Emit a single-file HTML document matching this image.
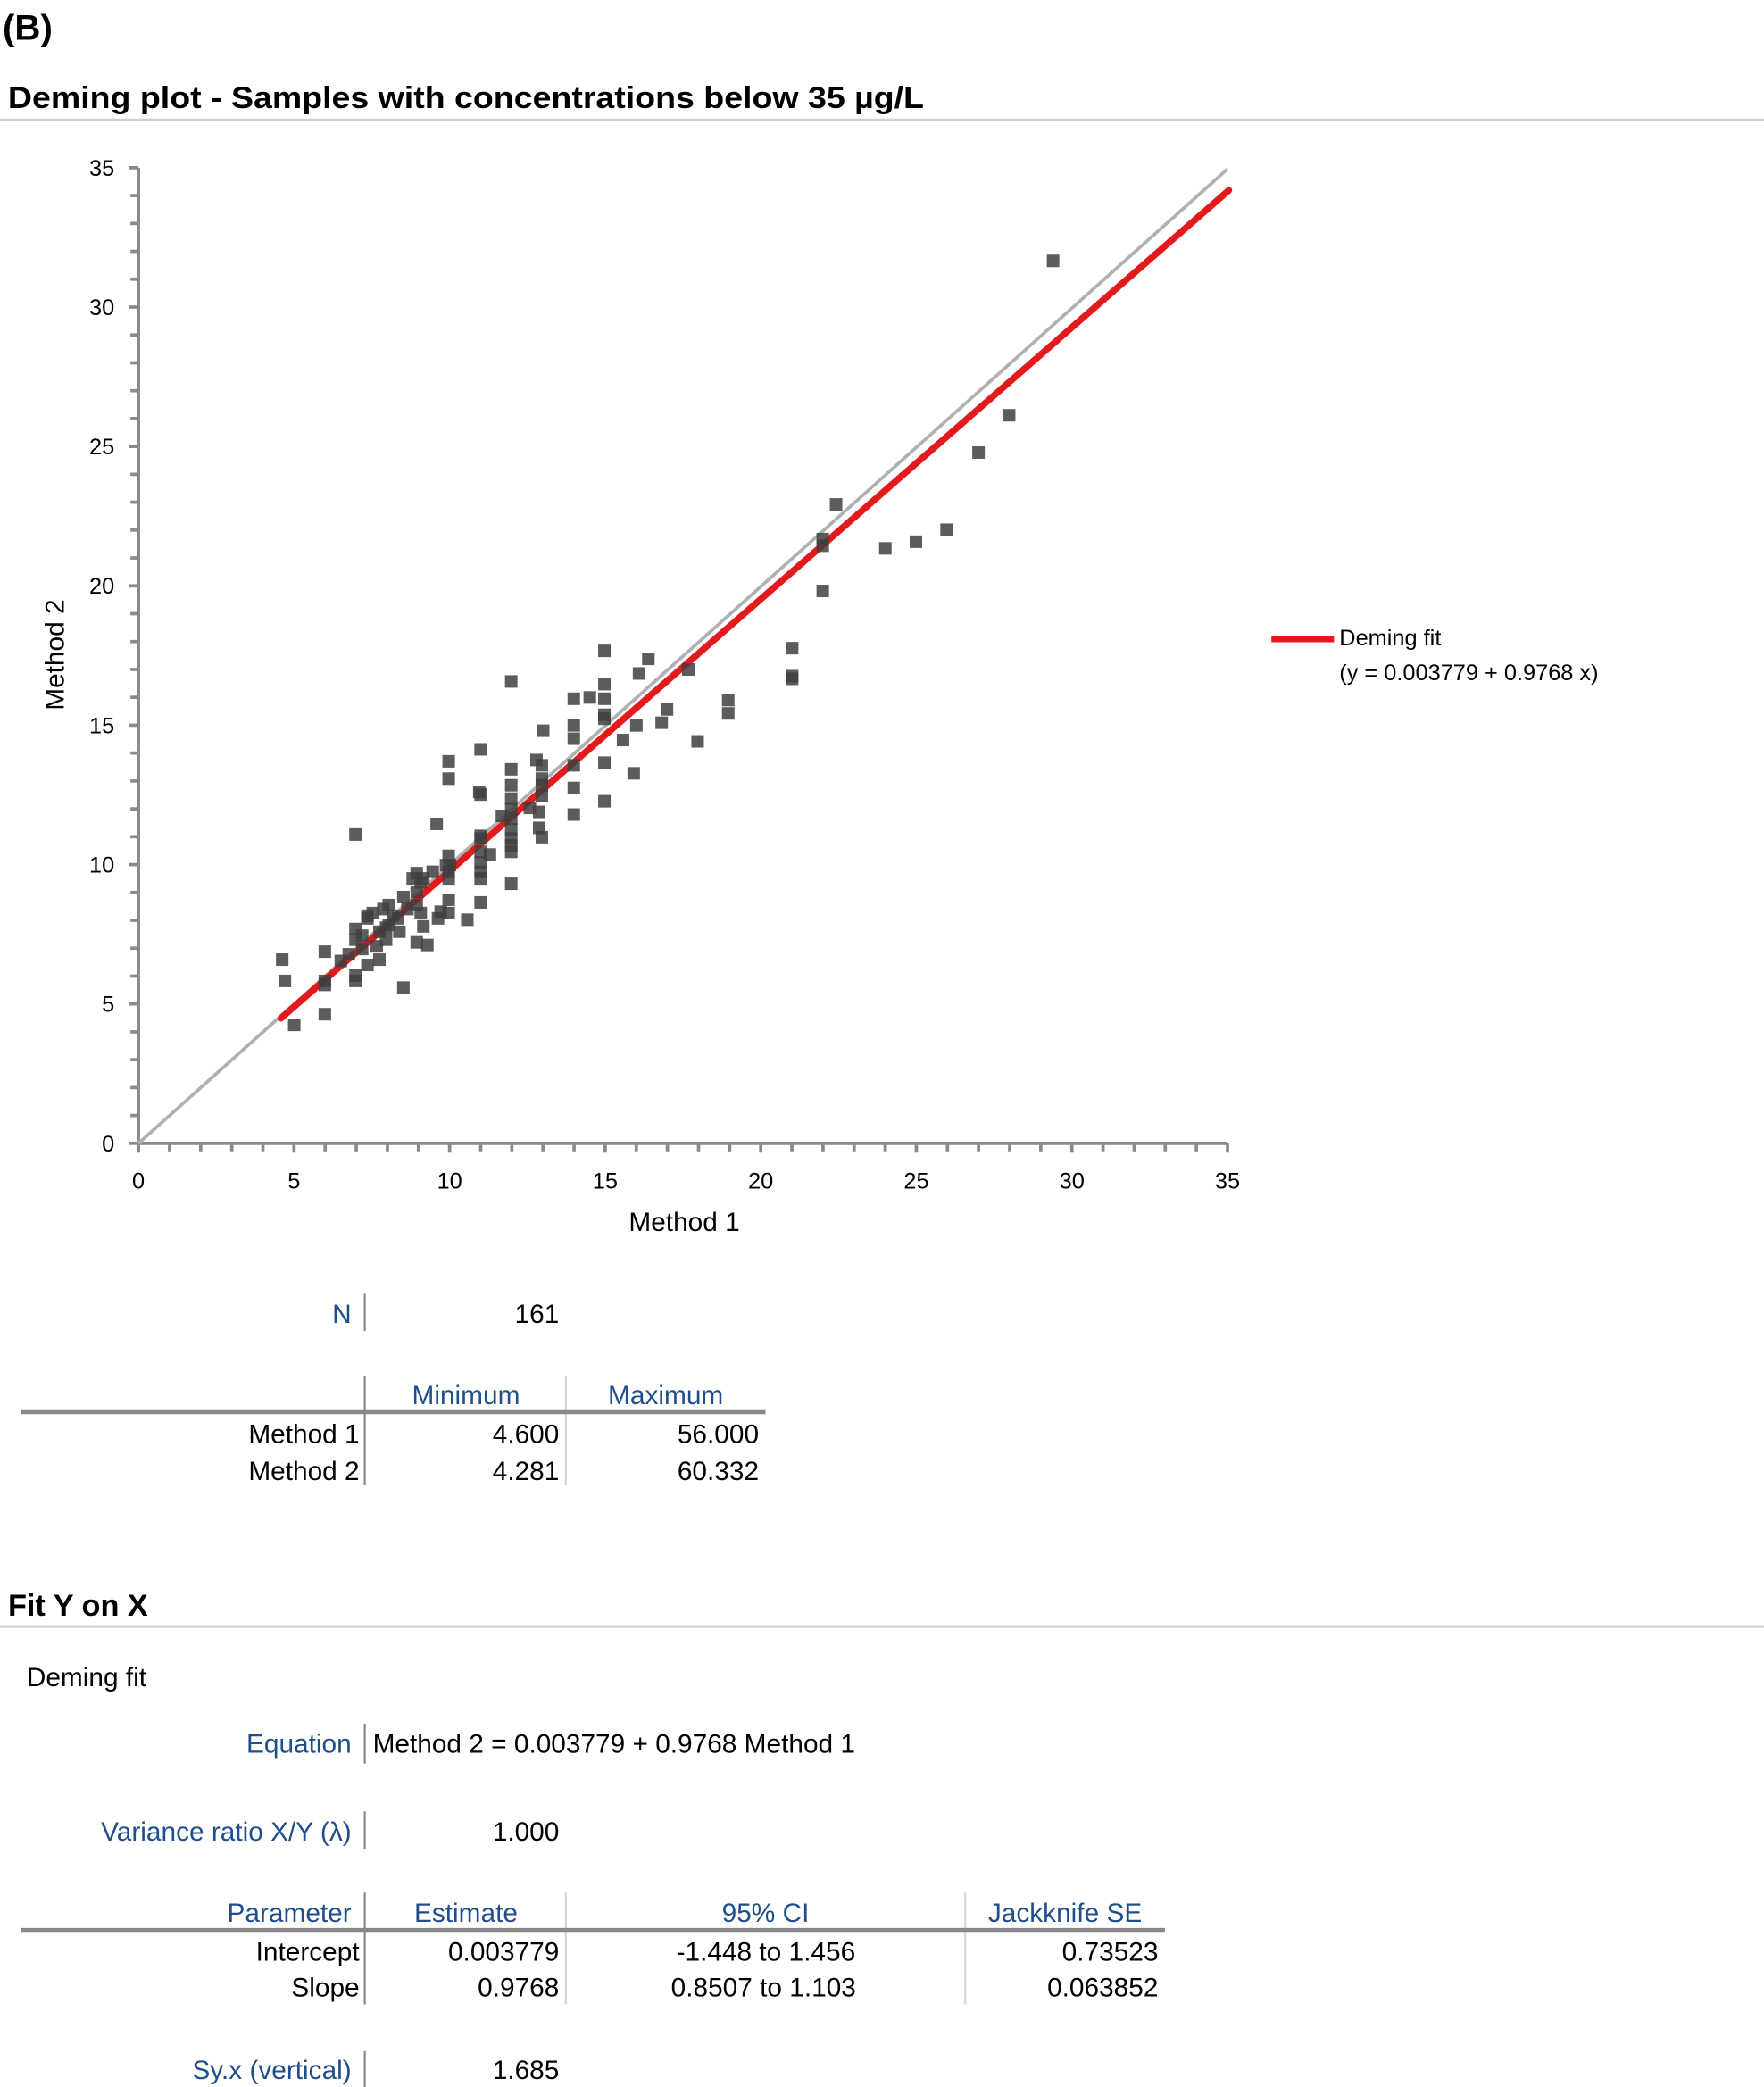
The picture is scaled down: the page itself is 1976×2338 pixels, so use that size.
<!DOCTYPE html>
<html><head><meta charset="utf-8"><style>
html,body{margin:0;padding:0;background:#fff;}
svg{display:block;}
text{font-family:"Liberation Sans",sans-serif;}
</style></head><body>
<svg id="s" width="1976" height="2338" viewBox="0 0 1325 1568" preserveAspectRatio="none" xmlns="http://www.w3.org/2000/svg">
<text x="2" y="30" font-size="27" font-weight="bold">(B)</text>
<text x="6" y="81" font-size="23" font-weight="bold" textLength="688" lengthAdjust="spacingAndGlyphs">Deming plot - Samples with concentrations below 35 µg/L</text>
<line x1="0" y1="90" x2="1325" y2="90" stroke="#d0d0d0" stroke-width="2"/>
<g id="axes" stroke="#8a8a8a" stroke-width="2.5"></g>
<g font-size="17" fill="#000" id="lbl"></g>
<text x="514" y="925" font-size="20" text-anchor="middle">Method 1</text>
<text transform="translate(48,492) rotate(-90)" font-size="20" text-anchor="middle">Method 2</text>
<line x1="104" y1="859" x2="922" y2="127" stroke="#b0b0b0" stroke-width="2.5"/>
<line x1="211" y1="765" x2="923" y2="143" stroke="#e31a1c" stroke-width="5" stroke-linecap="round"/>
<g id="pts" fill="#404040" fill-opacity="0.85"></g>
<line x1="955" y1="480" x2="1002" y2="480" stroke="#e31a1c" stroke-width="5"/>
<text x="1006" y="485" font-size="17">Deming fit</text>
<text x="1006" y="511" font-size="17">(y = 0.003779 + 0.9768 x)</text>

<g font-size="20">
<line x1="274" y1="972" x2="274" y2="1000" stroke="#8a8a8a" stroke-width="1.5"/>
<text x="264" y="994" fill="#1f4e8c" text-anchor="end">N</text>
<text x="420" y="994" text-anchor="end">161</text>

<line x1="274" y1="1034" x2="274" y2="1116" stroke="#8a8a8a" stroke-width="1.5"/>
<line x1="425" y1="1034" x2="425" y2="1116" stroke="#d8d8d8" stroke-width="1.5"/>
<line x1="16" y1="1061" x2="575" y2="1061" stroke="#888" stroke-width="3"/>
<text x="350" y="1055" fill="#1f4e8c" text-anchor="middle">Minimum</text>
<text x="500" y="1055" fill="#1f4e8c" text-anchor="middle">Maximum</text>
<text x="270" y="1084" text-anchor="end">Method 1</text>
<text x="420" y="1084" text-anchor="end">4.600</text>
<text x="570" y="1084" text-anchor="end">56.000</text>
<text x="270" y="1112" text-anchor="end">Method 2</text>
<text x="420" y="1112" text-anchor="end">4.281</text>
<text x="570" y="1112" text-anchor="end">60.332</text>
</g>

<text x="6" y="1214" font-size="23" font-weight="bold">Fit Y on X</text>
<line x1="0" y1="1222" x2="1325" y2="1222" stroke="#d0d0d0" stroke-width="2"/>
<g font-size="20">
<text x="20" y="1267">Deming fit</text>
<line x1="274" y1="1295" x2="274" y2="1325" stroke="#8a8a8a" stroke-width="1.5"/>
<text x="264" y="1317" fill="#1f4e8c" text-anchor="end">Equation</text>
<text x="280" y="1317">Method 2 = 0.003779 + 0.9768 Method 1</text>
<line x1="274" y1="1361" x2="274" y2="1389" stroke="#8a8a8a" stroke-width="1.5"/>
<text x="264" y="1383" fill="#1f4e8c" text-anchor="end">Variance ratio X/Y (λ)</text>
<text x="420" y="1383" text-anchor="end">1.000</text>

<line x1="274" y1="1422" x2="274" y2="1506" stroke="#8a8a8a" stroke-width="1.5"/>
<line x1="425" y1="1422" x2="425" y2="1506" stroke="#d8d8d8" stroke-width="1.5"/>
<line x1="725" y1="1422" x2="725" y2="1506" stroke="#d8d8d8" stroke-width="1.5"/>
<line x1="16" y1="1450" x2="875" y2="1450" stroke="#888" stroke-width="3"/>
<text x="264" y="1444" fill="#1f4e8c" text-anchor="end">Parameter</text>
<text x="350" y="1444" fill="#1f4e8c" text-anchor="middle">Estimate</text>
<text x="575" y="1444" fill="#1f4e8c" text-anchor="middle">95% CI</text>
<text x="800" y="1444" fill="#1f4e8c" text-anchor="middle">Jackknife SE</text>
<text x="270" y="1473" text-anchor="end">Intercept</text>
<text x="420" y="1473" text-anchor="end">0.003779</text>
<text x="508" y="1473">-1.448  to 1.456</text>
<text x="870" y="1473" text-anchor="end">0.73523</text>
<text x="270" y="1500" text-anchor="end">Slope</text>
<text x="420" y="1500" text-anchor="end">0.9768</text>
<text x="504" y="1500">0.8507  to 1.103</text>
<text x="870" y="1500" text-anchor="end">0.063852</text>
<line x1="274" y1="1541" x2="274" y2="1568" stroke="#8a8a8a" stroke-width="1.5"/>
<text x="264" y="1562" fill="#1f4e8c" text-anchor="end">Sy.x (vertical)</text>
<text x="420" y="1562" text-anchor="end">1.685</text>
</g>
</svg>
<script>
var NS="http://www.w3.org/2000/svg";
function el(p,t,a,txt){var e=document.createElementNS(NS,t);for(var k in a)e.setAttribute(k,a[k]);if(txt!=null)e.textContent=txt;document.getElementById(p).appendChild(e);}
var x0=104,xs=(922-104)/35,y0=859,ys=(859-126)/35;
el("axes","line",{x1:x0,y1:y0,x2:922,y2:y0});
el("axes","line",{x1:x0,y1:y0,x2:x0,y2:126});
for(var i=0;i<=35;i++){var X=x0+i*xs,Y=y0-i*ys;var m=i%5==0;
el("axes","line",{x1:X,y1:y0,x2:X,y2:y0+(m?7:6)});
el("axes","line",{x1:x0,y1:Y,x2:x0-(m?7:6),y2:Y});
if(m){el("lbl","text",{x:X,y:893,"text-anchor":"middle"},i);el("lbl","text",{x:86,y:Y+6,"text-anchor":"end"},i);}}
var P=[[212,721],[214,737],[221,770],[244,715],[244,740],[244,762],[244,737],[256,722],[262,717],[267,627],[267,698],[267,706],[267,733],[267,737],[272,703],[272,713],[276,688],[276,725],[280,686],[283,711],[285,700],[285,721],[288,683],[290,706],[292,680],[292,695],[295,688],[299,690],[303,674],[303,742],[306,683],[310,660],[313,656],[313,670],[313,708],[316,686],[316,663],[318,696],[321,710],[325,655],[328,619],[329,690],[331,685],[335,650],[337,572],[337,585],[337,643],[337,660],[337,676],[337,686],[338,650],[351,691],[361,563],[361,597],[361,628],[361,640],[361,655],[361,678],[361,630],[360,595],[368,642],[377,613],[384,512],[384,578],[384,590],[384,600],[384,615],[384,623],[384,630],[384,640],[384,664],[398,607],[403,571],[405,610],[405,622],[407,575],[407,585],[407,598],[407,629],[408,549],[431,525],[431,545],[431,575],[431,592],[431,612],[443,524],[454,489],[454,514],[454,525],[454,537],[454,540],[454,573],[454,602],[468,556],[476,581],[478,545],[480,506],[487,495],[497,543],[501,533],[517,503],[524,557],[547,526],[547,536],[595,487],[595,508],[595,510],[618,405],[618,410],[618,444],[628,379],[665,412],[688,407],[711,398],[735,340],[758,312],[791,196],[276,690],[290,697],[300,700],[313,680],[318,660],[337,655],[361,648],[384,608],[407,590],[431,555],[361,660],[384,635]];
P.forEach(function(p){el("pts","rect",{x:p[0]-4.7,y:p[1]-4.7,width:9.4,height:9.4});});
</script>
</body></html>
